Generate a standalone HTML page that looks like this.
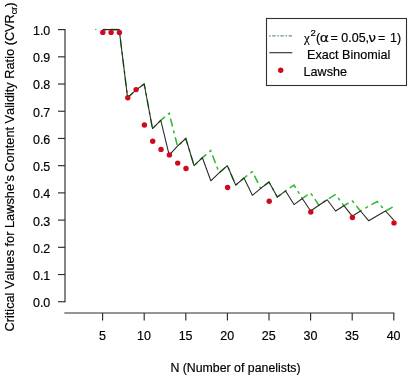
<!DOCTYPE html>
<html><head><meta charset="utf-8"><title>CVR critical values</title>
<style>html,body{margin:0;padding:0;background:#fff}svg{display:block}text{font-family:"Liberation Sans",Arial,sans-serif;font-size:12.5px;fill:#000;stroke:#000;stroke-width:0.18px;font-kerning:none}</style></head><body>
<svg width="410" height="378" viewBox="0 0 410 378">
<rect width="410" height="378" fill="#fff"/>
<g stroke="#2c2c2c" stroke-width="1.15" fill="none">
<path d="M65 29.00 V302.35"/>
<path d="M58 301.75 H65"/>
<path d="M58 274.54 H65"/>
<path d="M58 247.32 H65"/>
<path d="M58 220.11 H65"/>
<path d="M58 192.89 H65"/>
<path d="M58 165.68 H65"/>
<path d="M58 138.46 H65"/>
<path d="M58 111.25 H65"/>
<path d="M58 84.03 H65"/>
<path d="M58 56.82 H65"/>
<path d="M58 29.60 H65"/>
<path d="M64.3 313 H394.4"/>
<path d="M102.6 313 V320.6"/>
<path d="M144.2 313 V320.6"/>
<path d="M185.8 313 V320.6"/>
<path d="M227.4 313 V320.6"/>
<path d="M269.0 313 V320.6"/>
<path d="M310.6 313 V320.6"/>
<path d="M352.2 313 V320.6"/>
<path d="M393.8 313 V320.6"/>
</g>
<text transform="translate(50.30 307.15) scale(1 1.030)" text-anchor="end">0.0</text>
<text transform="translate(50.30 279.94) scale(1 1.030)" text-anchor="end">0.1</text>
<text transform="translate(50.30 252.72) scale(1 1.030)" text-anchor="end">0.2</text>
<text transform="translate(50.30 225.51) scale(1 1.030)" text-anchor="end">0.3</text>
<text transform="translate(50.30 198.29) scale(1 1.030)" text-anchor="end">0.4</text>
<text transform="translate(50.30 171.08) scale(1 1.030)" text-anchor="end">0.5</text>
<text transform="translate(50.30 143.86) scale(1 1.030)" text-anchor="end">0.6</text>
<text transform="translate(50.30 116.65) scale(1 1.030)" text-anchor="end">0.7</text>
<text transform="translate(50.30 89.43) scale(1 1.030)" text-anchor="end">0.8</text>
<text transform="translate(50.30 62.22) scale(1 1.030)" text-anchor="end">0.9</text>
<text transform="translate(50.30 35.00) scale(1 1.030)" text-anchor="end">1.0</text>
<text transform="translate(102.40 340.30) scale(1 1.030)" text-anchor="middle">5</text>
<text transform="translate(144.00 340.30) scale(1 1.030)" text-anchor="middle">10</text>
<text transform="translate(185.60 340.30) scale(1 1.030)" text-anchor="middle">15</text>
<text transform="translate(227.20 340.30) scale(1 1.030)" text-anchor="middle">20</text>
<text transform="translate(268.80 340.30) scale(1 1.030)" text-anchor="middle">25</text>
<text transform="translate(310.40 340.30) scale(1 1.030)" text-anchor="middle">30</text>
<text transform="translate(352.00 340.30) scale(1 1.030)" text-anchor="middle">35</text>
<text transform="translate(393.60 340.30) scale(1 1.030)" text-anchor="middle">40</text>
<text transform="translate(235.50 371.80) scale(1 1.030)" text-anchor="middle" style="font-size:12.35px">N (Number of panelists)</text>
<text transform="translate(13.8 331.55) scale(1 1.030) rotate(-90)" style="font-size:12.41px">Critical Values for Lawshe's Content Validity Ratio (CVR<tspan font-size="8.6" dy="2.8">cr</tspan><tspan dy="-2.8">)</tspan></text>
<polyline points="102.6,29.6 110.9,29.6 119.2,29.6 127.6,97.6 135.9,90.1 144.2,84.0 152.5,128.6 160.8,120.3 169.2,113.3 177.5,146.2 185.8,138.5 194.1,165.7 202.4,157.7 210.8,150.6 219.1,172.8 227.4,165.7 235.7,185.1 244.0,178.0 252.4,171.6 260.7,188.4 269.0,182.0 277.3,197.1 285.6,190.9 294.0,185.1 302.3,198.5 310.6,192.9 318.9,205.2 327.2,199.7 335.6,194.5 343.9,205.7 352.2,200.7 360.5,211.0 368.8,206.1 377.2,201.5 385.5,211.0 393.8,206.5" fill="none" stroke="#32b832" stroke-width="1.55" stroke-linecap="round" stroke-dasharray="1.742 5.226 6.968 5.226" stroke-dashoffset="17.86"/>
<polyline points="102.6,29.6 110.9,29.6 119.2,29.6 127.6,97.6 135.9,90.1 144.2,84.0 152.5,128.6 160.8,120.3 169.2,155.2 177.5,146.2 185.8,138.5 194.1,165.7 202.4,157.7 210.8,180.8 219.1,172.8 227.4,165.7 235.7,185.1 244.0,178.0 252.4,195.3 260.7,188.4 269.0,182.0 277.3,197.1 285.6,190.9 294.0,204.6 302.3,198.5 310.6,211.0 318.9,205.2 327.2,199.7 335.6,211.0 343.9,205.7 352.2,216.2 360.5,211.0 368.8,220.8 377.2,215.8 385.5,211.0 393.8,220.1" fill="none" stroke="#262626" stroke-width="1.05" stroke-linejoin="round"/>
<circle cx="102.8" cy="32.4" r="2.7" fill="#cf0a1e"/>
<circle cx="111.1" cy="32.4" r="2.7" fill="#cf0a1e"/>
<circle cx="119.4" cy="32.4" r="2.7" fill="#cf0a1e"/>
<circle cx="127.8" cy="97.7" r="2.7" fill="#cf0a1e"/>
<circle cx="136.1" cy="89.6" r="2.7" fill="#cf0a1e"/>
<circle cx="144.4" cy="125.0" r="2.7" fill="#cf0a1e"/>
<circle cx="152.7" cy="141.3" r="2.7" fill="#cf0a1e"/>
<circle cx="161.0" cy="149.4" r="2.7" fill="#cf0a1e"/>
<circle cx="169.4" cy="154.9" r="2.7" fill="#cf0a1e"/>
<circle cx="177.7" cy="163.1" r="2.7" fill="#cf0a1e"/>
<circle cx="186.0" cy="168.5" r="2.7" fill="#cf0a1e"/>
<circle cx="227.6" cy="187.5" r="2.7" fill="#cf0a1e"/>
<circle cx="269.2" cy="201.2" r="2.7" fill="#cf0a1e"/>
<circle cx="310.8" cy="212.0" r="2.7" fill="#cf0a1e"/>
<circle cx="352.4" cy="217.5" r="2.7" fill="#cf0a1e"/>
<circle cx="394.0" cy="222.9" r="2.7" fill="#cf0a1e"/>
<circle cx="95.8" cy="29.4" r="0.7" fill="#5c8a68"/>
<rect x="266.5" y="18.5" width="140" height="67" fill="#fff" stroke="#303030" stroke-width="1.1"/>
<path d="M269.1 35.9 H292.4" stroke="#5a9a6e" stroke-width="1.2" stroke-dasharray="1.5 1.7 3.3 1.7" fill="none"/>
<path d="M269.3 52.7 H292.3" stroke="#2a2a2a" stroke-width="1.1" fill="none"/>
<circle cx="280.7" cy="70.3" r="2.7" fill="#cf0a1e"/>
<text transform="translate(304.00 41.60) scale(1 1.030)" style="font-family:'Liberation Serif','DejaVu Serif',serif;font-size:13px">χ</text>
<text transform="translate(310.40 36.20) scale(1 1.030)" style="font-size:9.7px">2</text>
<text transform="translate(315.90 41.80) scale(1 1.030)">(</text>
<text transform="translate(319.80 41.80) scale(1 1.030)" style="font-family:'DejaVu Sans','Liberation Sans',sans-serif;font-size:12.5px" textLength="9.3" lengthAdjust="spacingAndGlyphs">α</text>
<text transform="translate(330.40 41.80) scale(1 1.030)">=</text>
<text transform="translate(341.30 41.80) scale(1 1.030)">0.05,</text>
<text transform="translate(368.30 41.80) scale(1 1.030)" style="font-family:'DejaVu Sans','Liberation Sans',sans-serif;font-size:12.5px" textLength="7.8" lengthAdjust="spacingAndGlyphs">ν</text>
<text transform="translate(378.00 41.80) scale(1 1.030)">=</text>
<text transform="translate(390.10 41.80) scale(1 1.030)">1</text>
<text transform="translate(396.90 41.80) scale(1 1.030)">)</text>
<text transform="translate(303.60 58.70) scale(1 1.030)" style="font-size:12.6px" xml:space="preserve"> Exact Binomial</text>
<text transform="translate(303.60 75.80) scale(1 1.030)" style="font-size:12.6px">Lawshe</text>
</svg></body></html>
